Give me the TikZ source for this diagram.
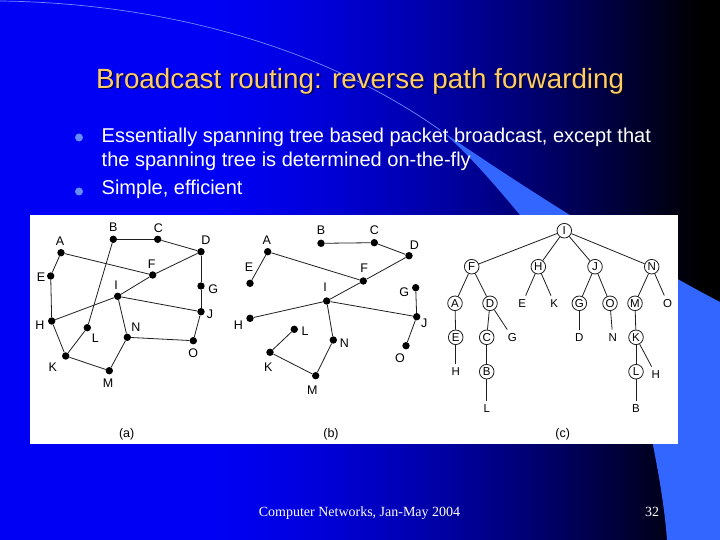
\documentclass[tikz,border=0pt]{standalone}
\usepackage{fontspec}
\setmainfont{Liberation Sans}
\newfontfamily\seriffont{Liberation Serif}
\definecolor{titlecol}{RGB}{255,204,102}
\definecolor{bulletcol}{RGB}{100,140,255}
\definecolor{wedgecol}{RGB}{51,102,255}
\definecolor{arccol}{RGB}{110,140,255}
\definecolor{linecol}{RGB}{30,30,30}
\begin{document}
\begin{tikzpicture}[x=1pt,y=-1pt,
 dot/.style={circle,fill=black,inner sep=0pt,minimum size=7.4pt},
 lab/.style={inner sep=0pt,font=\fontsize{12.5}{13}\selectfont},
 edge/.style={draw=linecol,line width=0.8pt},
 tnode/.style={circle,draw=linecol,line width=0.8pt,fill=white,inner sep=0pt,minimum size=14.6pt,font=\fontsize{11.5}{12}\selectfont},
 pnode/.style={inner sep=3.5pt,font=\fontsize{11.5}{12}\selectfont},
 bigtext/.style={anchor=base west,inner sep=0pt,text=white,font=\fontsize{20}{24}\selectfont},
 bull/.style={circle,fill=bulletcol,inner sep=0pt,minimum size=8pt},
]
\useasboundingbox (0,0) rectangle (720,540);
% background gradient
\foreach \i in {0,...,143}{
 \pgfmathsetmacro\xx{\i*5+2.5}
 \pgfmathsetmacro\tv{max(0,min(1,(\xx-200)/500))}
 \pgfmathsetmacro\bv{0.96*(1-\tv*sqrt(\tv))}
 \definecolor{bgc}{rgb}{0,0,\bv}
 \fill[bgc] (\i*5,0) rectangle (\i*5+5.6,540);
}
% decorations
\draw[arccol,line width=0.7pt] (0,1) .. controls (160,3) and (320,45) .. (440,130);
\fill[wedgecol] (440,130) .. controls (465,150) and (495,185) .. (520,215) -- (650,430)
  .. controls (656,460) and (664,500) .. (667,540) -- (720,540) -- (720,302)
  .. controls (630,255) and (520,185) .. (440,130) -- cycle;
% title
\node[anchor=base west,inner sep=0pt,text=black,opacity=0.6,font=\fontsize{27.8}{30}\selectfont] (titleshadow) at (97.6,89.9) {Broadcast routing: reverse path forwarding};
\node[anchor=base west,inner sep=0pt,text=titlecol,font=\fontsize{27.8}{30}\selectfont] (title) at (96,88.3) {Broadcast routing: reverse path forwarding};
% bullets
\node[bull] (b1) at (79,137.5) {};
\node[bull] (b2) at (79,191.5) {};
\node[bigtext] (t1) at (101.5,142.3) {Essentially spanning tree based packet broadcast, except that};
\node[bigtext] (t2) at (101.5,166.7) {the spanning tree is determined on-the-fly};
\node[bigtext] (t3) at (101.5,195) {Simple, efficient};
% panel
\fill[white] (30,215) rectangle (678,444);
% ---------- graph (a)
\node[dot] (aA) at (61,252.7) {};
\node[dot] (aB) at (113.3,239.3) {};
\node[dot] (aC) at (157.7,239.3) {};
\node[dot] (aD) at (201,251.7) {};
\node[dot] (aE) at (50.7,276) {};
\node[dot] (aF) at (152.7,275) {};
\node[dot] (aG) at (201,286) {};
\node[dot] (aH) at (51.7,321) {};
\node[dot] (aI) at (117.7,296.3) {};
\node[dot] (aJ) at (201,311.7) {};
\node[dot] (aK) at (65.7,356) {};
\node[dot] (aL) at (87.3,327.7) {};
\node[dot] (aM) at (109.3,370.7) {};
\node[dot] (aN) at (127.3,337.3) {};
\node[dot] (aO) at (193.3,340.7) {};
\node[lab] (laA) at (60,241) {A};
\node[lab] (laB) at (113.3,227.7) {B};
\node[lab] (laC) at (158.3,227.7) {C};
\node[lab] (laD) at (206,240.3) {D};
\node[lab] (laE) at (41,276.7) {E};
\node[lab] (laF) at (151.7,264.3) {F};
\node[lab] (laG) at (213.3,289) {G};
\node[lab] (laH) at (40,325) {H};
\node[lab] (laI) at (116,285) {I};
\node[lab] (laJ) at (210,314) {J};
\node[lab] (laK) at (52.7,366.7) {K};
\node[lab] (laL) at (95.3,338.3) {L};
\node[lab] (laM) at (108,383.3) {M};
\node[lab] (laN) at (136,327.3) {N};
\node[lab] (laO) at (193.3,353.3) {O};
\node[lab] (capa) at (126.7,434.3) {(a)};
\foreach \u/\v in {A/E,A/F,B/C,B/L,C/D,D/F,D/G,E/H,F/I,G/J,H/I,H/K,I/J,I/N,J/O,K/L,K/M,M/N,N/O}
  \draw[edge] (a\u) -- (a\v);
% ---------- graph (b)
\node[dot] (bA) at (267.7,251.7) {};
\node[dot] (bB) at (321,243.3) {};
\node[dot] (bC) at (374.3,242.7) {};
\node[dot] (bD) at (409,255.7) {};
\node[dot] (bE) at (250,283.3) {};
\node[dot] (bF) at (363.3,281) {};
\node[dot] (bG) at (415.7,287.7) {};
\node[dot] (bH) at (250,318.3) {};
\node[dot] (bI) at (326.7,301) {};
\node[dot] (bJ) at (416.7,316.7) {};
\node[dot] (bK) at (270,352.3) {};
\node[dot] (bL) at (294.3,329.3) {};
\node[dot] (bM) at (315.7,375.7) {};
\node[dot] (bN) at (333.3,340) {};
\node[dot] (bO) at (406,345.7) {};
\node[lab] (lbA) at (266.7,240) {A};
\node[lab] (lbB) at (321,230) {B};
\node[lab] (lbC) at (374.3,230) {C};
\node[lab] (lbD) at (414.3,245) {D};
\node[lab] (lbE) at (249,266.7) {E};
\node[lab] (lbF) at (364.3,268.3) {F};
\node[lab] (lbG) at (404.3,292.3) {G};
\node[lab] (lbH) at (238.3,325) {H};
\node[lab] (lbI) at (325,286.7) {I};
\node[lab] (lbJ) at (424.3,323.3) {J};
\node[lab] (lbK) at (268.3,366.7) {K};
\node[lab] (lbL) at (305,331) {L};
\node[lab] (lbM) at (312.3,390) {M};
\node[lab] (lbN) at (344.3,343.3) {N};
\node[lab] (lbO) at (400,357.7) {O};
\node[lab] (capb) at (331,434.3) {(b)};
\foreach \u/\v in {B/C,C/D,D/F,A/F,A/E,F/I,I/H,I/J,G/J,J/O,I/N,N/M,M/K,K/L}
  \draw[edge] (b\u) -- (b\v);
% ---------- tree (c)
\node[tnode] (cI) at (564.3,230.7) {I};
\node[tnode] (cF) at (471.7,266.7) {F};
\node[tnode] (cH) at (538.3,266.7) {H};
\node[tnode] (cJ) at (595,266.7) {J};
\node[tnode] (cN) at (651.7,266.7) {N};
\node[tnode] (cA) at (455,303.3) {A};
\node[tnode] (cD) at (490,303.3) {D};
\node[tnode] (cG) at (579.3,303.3) {G};
\node[tnode] (cO) at (610,303.3) {O};
\node[tnode] (cM) at (635,303.3) {M};
\node[tnode] (cE) at (455.7,337.3) {E};
\node[tnode] (cC) at (486.7,337.3) {C};
\node[tnode] (cK) at (636,337.3) {K};
\node[tnode] (cB) at (486.7,371.7) {B};
\node[tnode] (cL) at (636,371.7) {L};
\node[pnode] (pE) at (522.3,303.3) {E};
\node[pnode] (pK) at (554.3,303.3) {K};
\node[pnode] (pO) at (667.7,303.3) {O};
\node[pnode] (pG) at (512.3,337.3) {G};
\node[pnode] (pD) at (579.3,337.3) {D};
\node[pnode] (pN) at (612.7,337.3) {N};
\node[pnode] (pH1) at (455.7,371.7) {H};
\node[pnode] (pH2) at (655.7,374.3) {H};
\node[pnode] (pL) at (486.7,408.3) {L};
\node[pnode] (pB) at (636,408.3) {B};
\node[lab] (capc) at (562.7,434.3) {(c)};
\foreach \u/\v in {cI/cF,cI/cH,cI/cJ,cI/cN,cF/cA,cF/cD,cH/pE,cH/pK,cJ/cG,cJ/cO,cN/cM,cN/pO,cA/cE,cD/cC,cD/pG,cG/pD,cO/pN,cM/cK,cE/pH1,cC/cB,cK/cL,cK/pH2,cB/pL,cL/pB}
  \draw[edge] (\u) -- (\v);
% footer
\node[anchor=base,inner sep=0pt,text=white,font=\seriffont\fontsize{14}{16}\selectfont] (foot) at (359.5,516) {Computer Networks, Jan-May 2004};
\node[anchor=base,inner sep=0pt,text=white,font=\seriffont\fontsize{14}{16}\selectfont] (pnum) at (652,516) {32};
\end{tikzpicture}
\end{document}
